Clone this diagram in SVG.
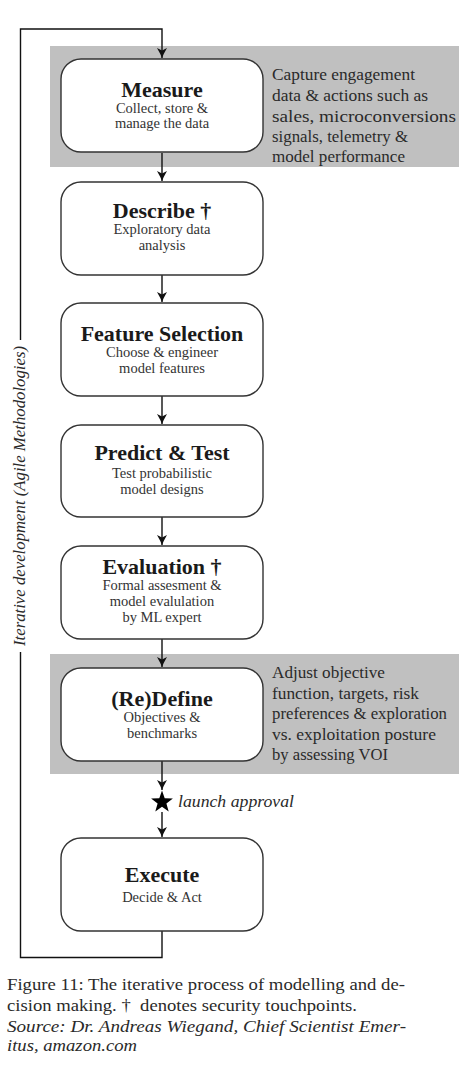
<svg xmlns="http://www.w3.org/2000/svg" width="474" height="1070" viewBox="0 0 474 1070">
<style>
.bg{fill:#ffffff}
.band{fill:#c0c0c0}
.node rect{fill:#ffffff;stroke:#333333;stroke-width:1.4}
.title{font-family:"Liberation Serif","DejaVu Serif",serif;font-weight:bold;font-size:22px;fill:#1a1a1a;text-anchor:middle}
.sub{font-family:"Liberation Serif","DejaVu Serif",serif;font-size:14.5px;fill:#333333;text-anchor:middle}
.side{font-family:"Liberation Serif","DejaVu Serif",serif;font-size:16.5px;fill:#2a2a2a}
.cap{font-family:"Liberation Serif","DejaVu Serif",serif;font-size:16.5px;fill:#2a2a2a}
.it{font-style:italic}
.conn line,.conn path{stroke:#111111;stroke-width:1.4;fill:none}
</style>
<defs>
<marker id="ah" markerUnits="userSpaceOnUse" markerWidth="14" markerHeight="12" viewBox="-11 -6 12 12" refX="0" refY="0" orient="auto">
<path d="M-10,-5 Q-4,-1.5 0,0 Q-4,1.5 -10,5 L-7.5,0 Z" fill="#111111"/>
</marker>
</defs>
<rect class="bg" x="0" y="0" width="474" height="1070"/>
<rect class="band" x="50" y="46" width="409" height="121"/>
<rect class="band" x="50" y="654" width="409" height="120"/>

<g class="conn">
<path d="M162,931 V957.5 H20.5 V652"/>
<path d="M20.5,340 V29 H162 V58" marker-end="url(#ah)"/>
<line x1="162" y1="153" x2="162" y2="181" marker-end="url(#ah)"/>
<line x1="162" y1="275" x2="162" y2="302" marker-end="url(#ah)"/>
<line x1="162" y1="396" x2="162" y2="424" marker-end="url(#ah)"/>
<line x1="162" y1="517" x2="162" y2="545" marker-end="url(#ah)"/>
<line x1="162" y1="639" x2="162" y2="667" marker-end="url(#ah)"/>
<line x1="162" y1="761" x2="162" y2="790" marker-end="url(#ah)"/>
<line x1="162" y1="812" x2="162" y2="837" marker-end="url(#ah)"/>
</g>

<text class="cap it" transform="translate(25,496) rotate(-90)" text-anchor="middle" font-size="14.5" textLength="300" lengthAdjust="spacingAndGlyphs">Iterative development (Agile Methodologies)</text>

<g id="measure" class="node">
<rect x="61" y="59" width="202" height="93" rx="20"/>
<text class="title" x="162" y="97">Measure</text>
<text class="sub" x="162" y="113">Collect, store &amp;</text>
<text class="sub" x="162" y="127.5">manage the data</text>
</g>
<g id="measure-note">
<text class="side" x="272" y="80" textLength="143" lengthAdjust="spacingAndGlyphs">Capture engagement</text>
<text class="side" x="272" y="101" textLength="156" lengthAdjust="spacingAndGlyphs">data &amp; actions such as</text>
<text class="side" x="272" y="121.5" textLength="184" lengthAdjust="spacingAndGlyphs">sales, microconversions</text>
<text class="side" x="272" y="142" textLength="136" lengthAdjust="spacingAndGlyphs">signals, telemetry &amp;</text>
<text class="side" x="272" y="162" textLength="133" lengthAdjust="spacingAndGlyphs">model performance</text>
</g>

<g id="describe" class="node">
<rect x="61" y="182" width="202" height="93" rx="20"/>
<text class="title" x="162" y="218">Describe †</text>
<text class="sub" x="162" y="234">Exploratory data</text>
<text class="sub" x="162" y="250">analysis</text>
</g>

<g id="feature" class="node">
<rect x="61" y="303" width="202" height="93" rx="20"/>
<text class="title" x="162" y="341">Feature Selection</text>
<text class="sub" x="162" y="357">Choose &amp; engineer</text>
<text class="sub" x="162" y="373">model features</text>
</g>

<g id="predict" class="node">
<rect x="61" y="425" width="202" height="92" rx="20"/>
<text class="title" x="162" y="459.5">Predict &amp; Test</text>
<text class="sub" x="162" y="477.5">Test probabilistic</text>
<text class="sub" x="162" y="493.5">model designs</text>
</g>

<g id="evaluation" class="node">
<rect x="61" y="546" width="202" height="93" rx="20"/>
<text class="title" x="162" y="574">Evaluation †</text>
<text class="sub" x="162" y="590">Formal assesment &amp;</text>
<text class="sub" x="162" y="606">model evalulation</text>
<text class="sub" x="162" y="622">by ML expert</text>
</g>

<g id="redefine" class="node">
<rect x="61" y="668" width="202" height="93" rx="20"/>
<text class="title" x="162" y="706">(Re)Define</text>
<text class="sub" x="162" y="722">Objectives &amp;</text>
<text class="sub" x="162" y="738">benchmarks</text>
</g>
<g id="redefine-note">
<text class="side" x="272" y="678" textLength="113" lengthAdjust="spacingAndGlyphs">Adjust objective</text>
<text class="side" x="272" y="698.5" textLength="147" lengthAdjust="spacingAndGlyphs">function, targets, risk</text>
<text class="side" x="272" y="719" textLength="175" lengthAdjust="spacingAndGlyphs">preferences &amp; exploration</text>
<text class="side" x="272" y="740" textLength="164" lengthAdjust="spacingAndGlyphs">vs. exploitation posture</text>
<text class="side" x="272" y="760" textLength="116" lengthAdjust="spacingAndGlyphs">by assessing VOI</text>
</g>

<g id="launch">
<polygon points="162,790.5 164.7,798.3 172.9,798.5 166.4,803.5 168.7,811.4 162,806.7 155.3,811.4 157.6,803.5 151.1,798.5 159.3,798.3" fill="#000000"/>
<text class="side it" x="178" y="807" textLength="116" lengthAdjust="spacingAndGlyphs">launch approval</text>
</g>

<g id="execute" class="node">
<rect x="61" y="838" width="202" height="93" rx="20"/>
<text class="title" x="162" y="882">Execute</text>
<text class="sub" x="162" y="902">Decide &amp; Act</text>
</g>

<g id="caption">
<text class="cap" x="7" y="990" textLength="398" lengthAdjust="spacingAndGlyphs">Figure 11: The iterative process of modelling and de-</text>
<text class="cap" x="7" y="1010.5" textLength="350" lengthAdjust="spacingAndGlyphs">cision making. †&#160; denotes security touchpoints.</text>
<text class="cap it" x="7" y="1031.5" textLength="399" lengthAdjust="spacingAndGlyphs">Source: Dr. Andreas Wiegand, Chief Scientist Emer-</text>
<text class="cap it" x="7" y="1051" textLength="130" lengthAdjust="spacingAndGlyphs">itus, amazon.com</text>
</g>
</svg>
